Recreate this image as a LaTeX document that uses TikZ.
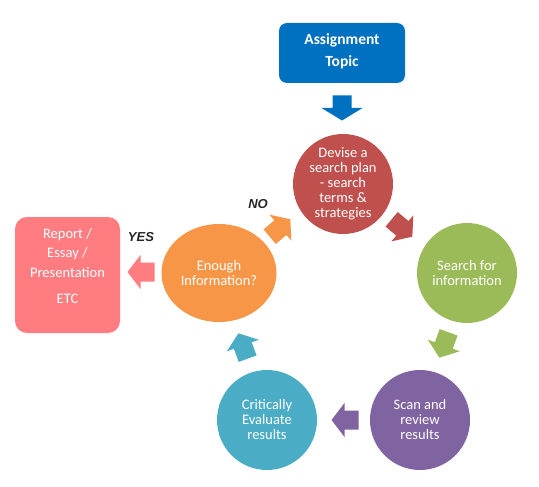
\documentclass[tikz,border=0pt]{standalone}
\usepackage{fontspec}
\setmainfont{Carlito}
\newfontfamily\yesnofont{Liberation Sans}
\usetikzlibrary{shapes.geometric}
\definecolor{topicblue}{HTML}{0070C0}
\definecolor{planred}{HTML}{C0504D}
\definecolor{searchgreen}{HTML}{9BBB59}
\definecolor{scanpurple}{HTML}{8064A2}
\definecolor{evalcyan}{HTML}{4BACC6}
\definecolor{enoughorange}{HTML}{F79646}
\definecolor{reportpink}{HTML}{FF7C80}
\definecolor{labeldark}{HTML}{262626}
\tikzset{
  stepcircle/.style={circle, minimum size=100pt, inner sep=0pt, align=center,
    text=white, font=\fontsize{14.5}{15}\selectfont},
  yesno/.style={text=labeldark, font=\yesnofont\bfseries\itshape\fontsize{13}{15}\selectfont},
  pics/blockarrow/.style={code={
    \fill[#1] (-13.5,-9.5) -- (0.5,-9.5) -- (0.5,-17) -- (13.5,0) -- (0.5,17) -- (0.5,9.5) -- (-13.5,9.5) -- cycle;}},
  pics/bigarrow/.style={code={
    \fill[#1] (-12.5,-9.5) -- (0,-9.5) -- (0,-20.5) -- (12.5,0) -- (0,20.5) -- (0,9.5) -- (-12.5,9.5) -- cycle;}}
}
\begin{document}
\begin{tikzpicture}[x=1pt,y=-1pt]
\useasboundingbox (0,0) rectangle (539,487);
% top box
\node[fill=topicblue, rounded corners=8pt, minimum width=126pt, minimum height=60pt, inner sep=0pt] (topic) at (342,53) {};
\node[text=white, align=center, font=\bfseries\fontsize{15.5}{22}\selectfont] (topictxt) at (342,51) {Assignment\\Topic};
% report box
\node[fill=reportpink, rounded corners=12pt, minimum width=105pt, minimum height=116pt, inner sep=0pt] (report) at (67.5,275) {};
\node[text=white, align=center, font=\fontsize{14.5}{19.5}\selectfont] (reporttxt) at (67.5,266) {Report /\\Essay /\\Presentation\\[7pt]ETC};
% circles
\node[stepcircle, fill=planred] (plan) at (343,184) {Devise a\\search plan\\- search\\terms \&\\strategies};
\node[stepcircle, fill=searchgreen] (search) at (467,273) {Search for\\information};
\node[stepcircle, fill=scanpurple] (scan) at (420,420) {Scan and\\review\\results};
\node[stepcircle, fill=evalcyan] (eval) at (267,420) {Critically\\Evaluate\\results};
\node[stepcircle, ellipse, minimum width=115pt, minimum height=98pt, fill=enoughorange] (enough) at (219,273) {Enough\\Information?};
% labels
\node[yesno] (yes) at (141,237) {YES};
\node[yesno] (no) at (258,204) {NO};
% block arrows
\pic[rotate=-90] at (342,108) {bigarrow=topicblue};
\pic[rotate=-40] at (402,228) {blockarrow=planred};
\pic[rotate=-110] at (444,345) {blockarrow=searchgreen};
\pic[rotate=180] at (345,420) {blockarrow=scanpurple};
\pic[rotate=110] at (243,346) {blockarrow=evalcyan};
\pic[rotate=40] at (280,228) {blockarrow=enoughorange};
\pic[rotate=180] at (141,272) {blockarrow=reportpink};
\end{tikzpicture}
\end{document}
